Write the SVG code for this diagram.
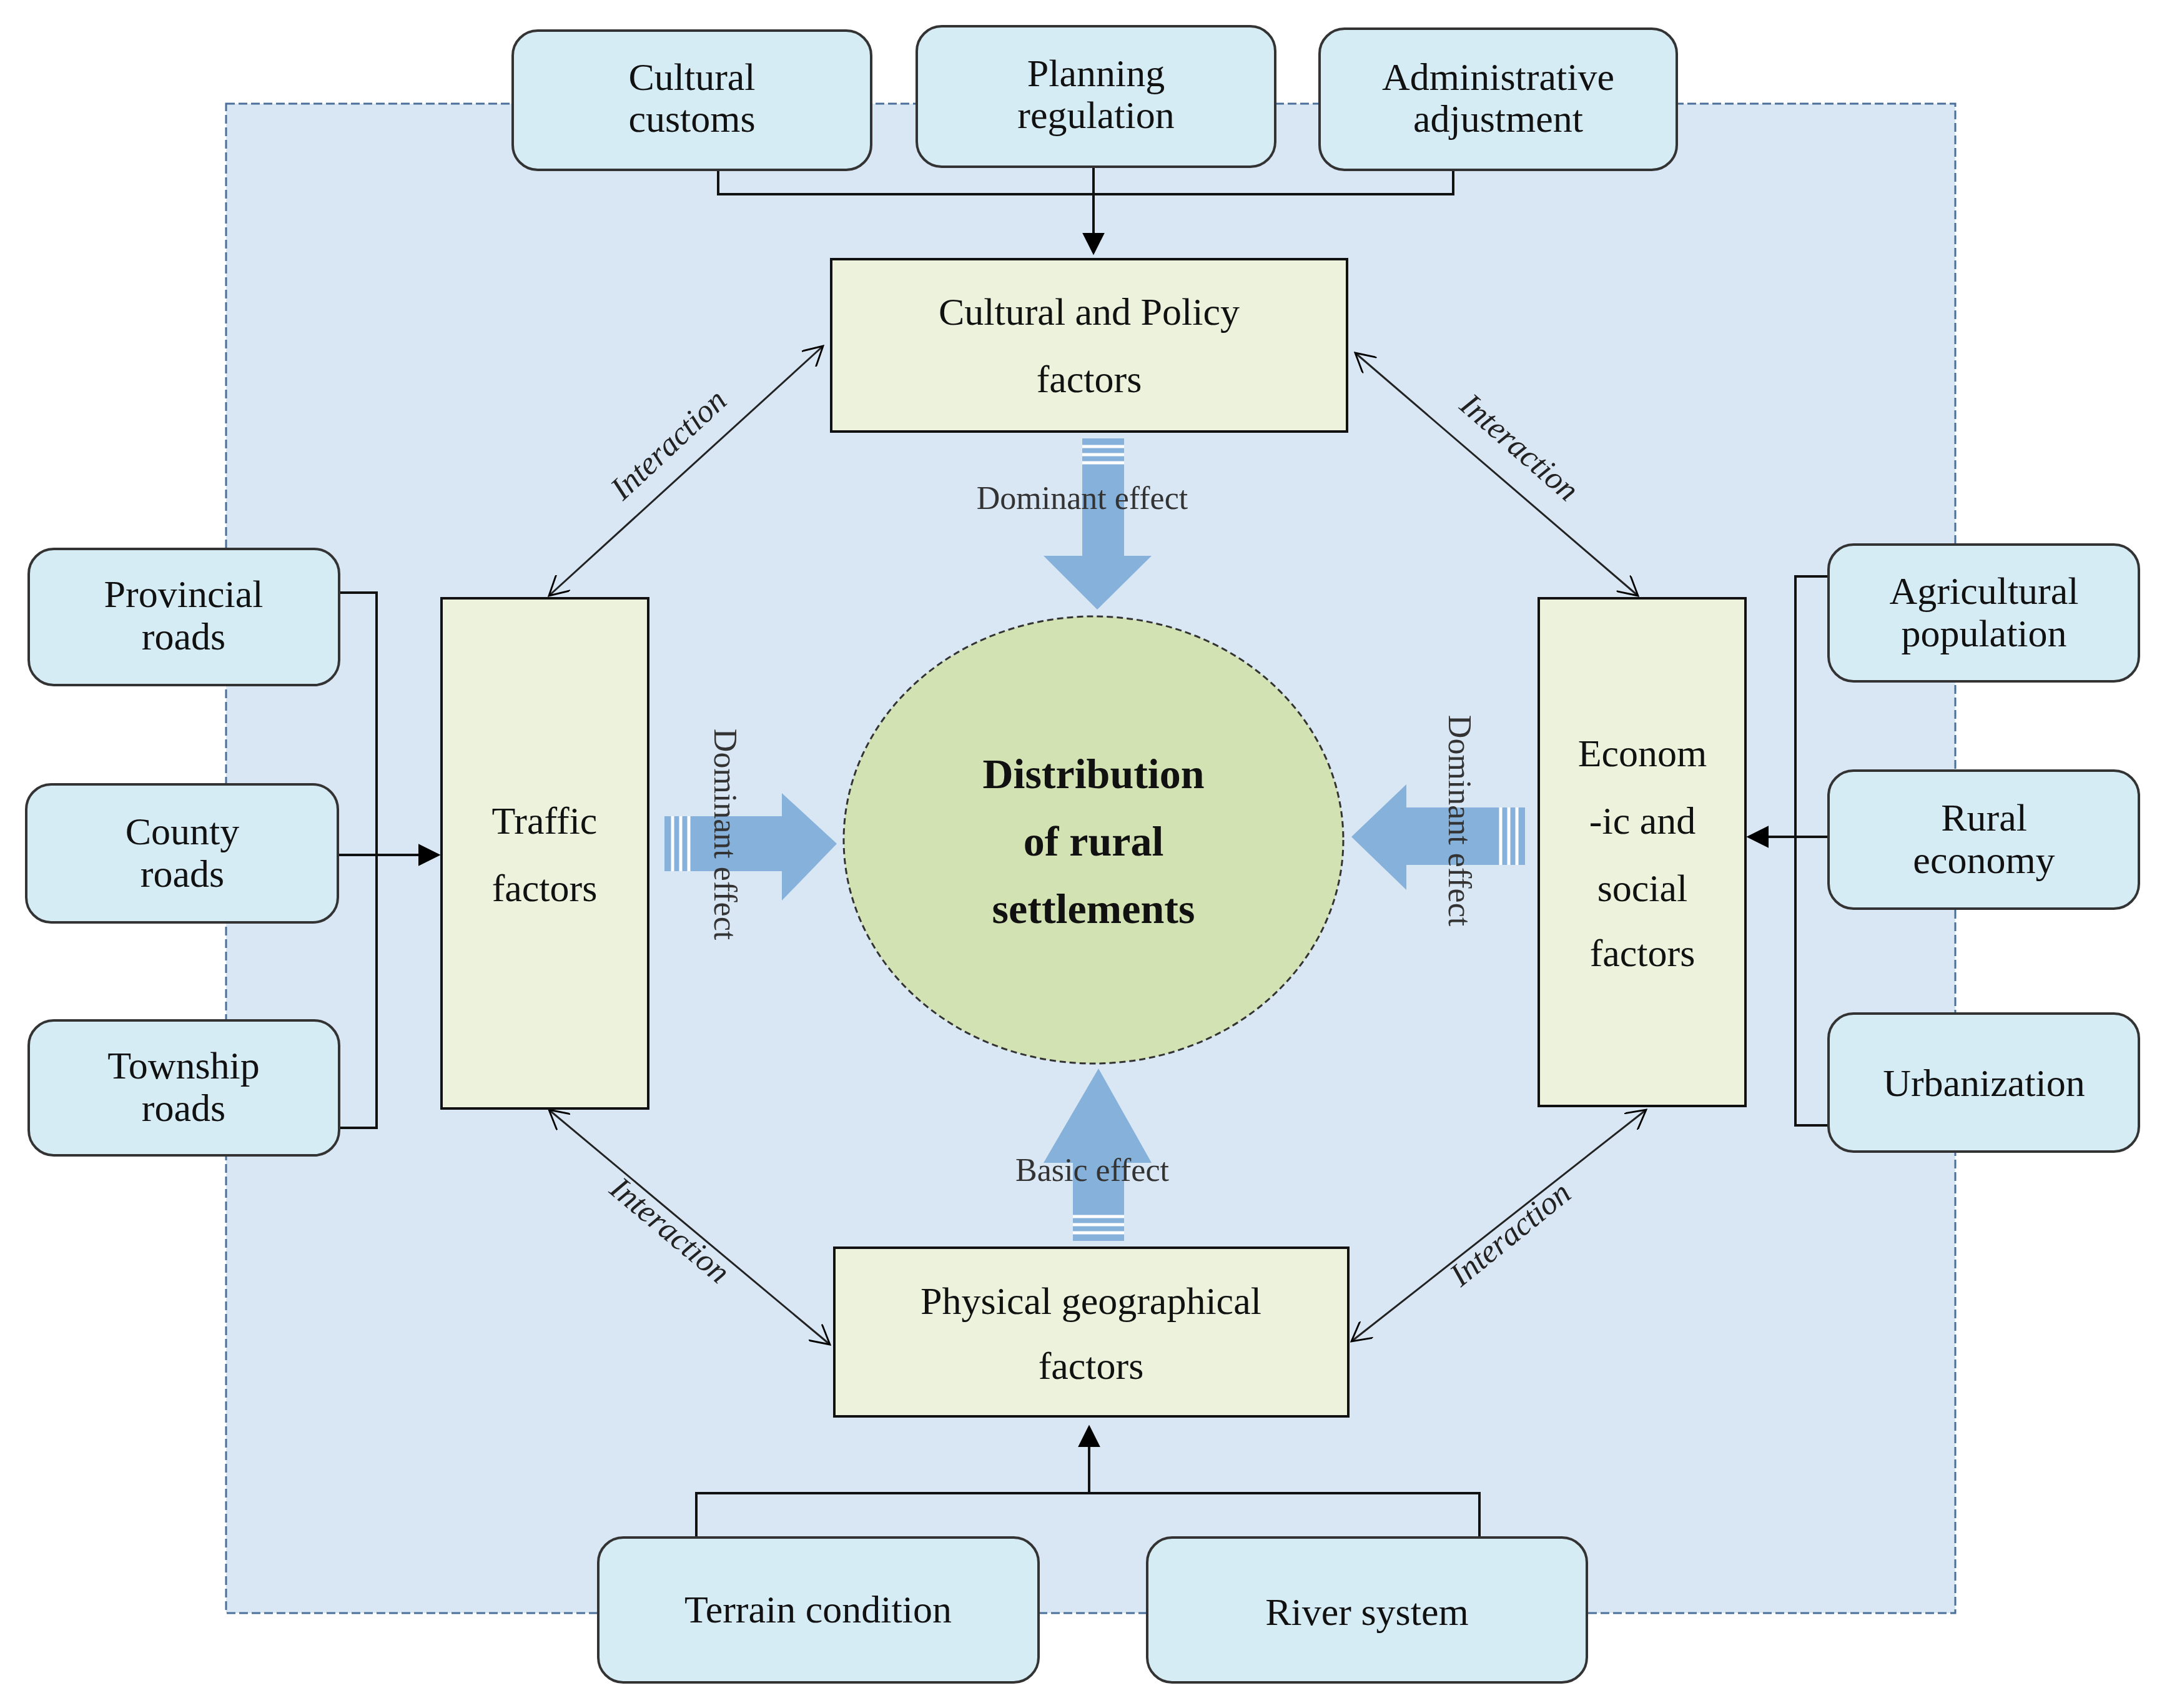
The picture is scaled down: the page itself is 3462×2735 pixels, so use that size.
<svg xmlns="http://www.w3.org/2000/svg" width="3462" height="2735" viewBox="0 0 3462 2735">
<defs>
<marker id="ah" viewBox="0 0 10 10" refX="9" refY="5" markerWidth="10" markerHeight="10" markerUnits="userSpaceOnUse" orient="auto"><path d="M0,0 L10,5 L0,10 z" fill="#000"/></marker>
<marker id="big" viewBox="0 0 10 10" refX="9" refY="5" markerWidth="36" markerHeight="36" markerUnits="userSpaceOnUse" orient="auto"><path d="M0,0 L10,5 L0,10 z" fill="#000"/></marker>
<marker id="open" viewBox="0 0 12 12" refX="11" refY="6" markerWidth="34" markerHeight="34" markerUnits="userSpaceOnUse" orient="auto-start-reverse"><path d="M0,0 L11,6 L0,12" fill="none" stroke="#000" stroke-width="1"/></marker>
</defs>
<style>
.rb{fill:#d6ecf5;stroke:#333;stroke-width:4}
.fb{fill:#edf2dc;stroke:#111;stroke-width:4}
.t{font-family:"Liberation Serif",serif;font-size:62px;fill:#111;text-anchor:middle}
.b{font-weight:bold;font-size:68px}
.s{font-size:52px;fill:#333}
.i{font-family:"Liberation Serif",serif;font-size:52px;font-style:italic;fill:#222;text-anchor:middle}
.ln{stroke:#111;stroke-width:4;fill:none}
.il{stroke:#222;stroke-width:3;fill:none}
.ar{fill:#86b1da}
.st{stroke:#fff;stroke-width:5}
</style>
<rect width="3462" height="2735" fill="#fff"/>
<rect x="362" y="166" width="2769" height="2417" fill="#d9e6f3" stroke="#4a6f9a" stroke-width="3" stroke-dasharray="14,6"/>
<g id="connectors">
<path class="ln" d="M1150,272 V311 H2327 V272"/>
<path class="ln" d="M1751,267 V405" marker-end="url(#big)"/>
<path class="ln" d="M1115,2462 V2391 H2369 V2462"/>
<path class="ln" d="M1744,2391 V2285" marker-end="url(#big)"/>
<path class="ln" d="M543,949 H603 V1806 H543 M541,1369 H702" marker-end="url(#big)"/>
<path class="ln" d="M2928,923 H2875 V1802 H2928 M2928,1340 H2800" marker-end="url(#big)"/>
<line class="il" x1="1318" y1="554" x2="879" y2="954" marker-start="url(#open)" marker-end="url(#open)"/>
<line class="il" x1="2170" y1="565" x2="2623" y2="954" marker-start="url(#open)" marker-end="url(#open)"/>
<line class="il" x1="879" y1="1777" x2="1329" y2="2153" marker-start="url(#open)" marker-end="url(#open)"/>
<line class="il" x1="2636" y1="1777" x2="2164" y2="2148" marker-start="url(#open)" marker-end="url(#open)"/>
<text class="i" transform="translate(1082,724) rotate(-43)">Interaction</text>
<text class="i" transform="translate(2422,729) rotate(41)">Interaction</text>
<text class="i" transform="translate(1062,1983) rotate(40)">Interaction</text>
<text class="i" transform="translate(2429,1989) rotate(-39)">Interaction</text>
<g id="arrow-top"><path class="ar" d="M1733,702 H1800 V890 H1844 L1757,976 L1671,890 H1733 Z"/><path class="st" d="M1733,715 H1800 M1733,728 H1800 M1733,741 H1800"/><text class="t s" x="1733" y="815">Dominant effect</text></g>
<g id="arrow-left"><path class="ar" d="M1064,1307 H1252 V1270 L1340,1351 L1252,1442 V1395 H1064 Z"/><path class="st" d="M1077,1307 V1395 M1090,1307 V1395 M1103,1307 V1395"/><text class="t s" transform="translate(1144,1336) rotate(90)">Dominant effect</text></g>
<g id="arrow-right"><path class="ar" d="M2442,1293 H2252 V1256 L2164,1340 L2252,1425 V1385 H2442 Z"/><path class="st" d="M2429,1293 V1385 M2416,1293 V1385 M2403,1293 V1385"/><text class="t s" transform="translate(2320,1314) rotate(90)">Dominant effect</text></g>
<g id="arrow-bottom"><path class="ar" d="M1718,1987 V1862 H1671 L1759,1711 L1844,1862 H1800 V1987 Z"/><path class="st" d="M1718,1974 H1800 M1718,1961 H1800 M1718,1948 H1800"/><text class="t s" x="1749" y="1891">Basic effect</text></g>
</g>
<g id="n-cc"><rect class="rb" x="821" y="49" width="574" height="223" rx="40"/><text class="t" x="1108" y="144">Cultural</text><text class="t" x="1108" y="211">customs</text></g>
<g id="n-pr"><rect class="rb" x="1468" y="42" width="574" height="225" rx="40"/><text class="t" x="1755" y="138">Planning</text><text class="t" x="1755" y="205">regulation</text></g>
<g id="n-aa"><rect class="rb" x="2113" y="46" width="572" height="226" rx="40"/><text class="t" x="2399" y="144">Administrative</text><text class="t" x="2399" y="211">adjustment</text></g>
<g id="n-cp"><rect class="fb" x="1331" y="415" width="826" height="276"/><text class="t" x="1744" y="520">Cultural and Policy</text><text class="t" x="1744" y="628">factors</text></g>
<g id="n-center"><ellipse cx="1751" cy="1345" rx="400" ry="358" fill="#d3e2b2" stroke="#333" stroke-width="3" stroke-dasharray="10,6"/><text class="t b" x="1751" y="1262">Distribution</text><text class="t b" x="1751" y="1370">of rural</text><text class="t b" x="1751" y="1478">settlements</text></g>
<g id="n-tr"><rect class="fb" x="707" y="958" width="331" height="817"/><text class="t" x="872" y="1335">Traffic</text><text class="t" x="872" y="1443">factors</text></g>
<g id="n-es"><rect class="fb" x="2464" y="958" width="331" height="813"/><text class="t" x="2630" y="1227">Econom</text><text class="t" x="2630" y="1335">-ic and</text><text class="t" x="2630" y="1443">social</text><text class="t" x="2630" y="1547">factors</text></g>
<g id="n-pg"><rect class="fb" x="1336" y="1998" width="823" height="270"/><text class="t" x="1747" y="2104">Physical geographical</text><text class="t" x="1747" y="2208">factors</text></g>
<g id="n-tc"><rect class="rb" x="958" y="2462" width="705" height="232" rx="40"/><text class="t" x="1310" y="2598">Terrain condition</text></g>
<g id="n-rs"><rect class="rb" x="1837" y="2462" width="704" height="232" rx="40"/><text class="t" x="2189" y="2602">River system</text></g>
<g id="n-prov"><rect class="rb" x="46" y="879" width="497" height="218" rx="40"/><text class="t" x="294" y="972">Provincial</text><text class="t" x="294" y="1040">roads</text></g>
<g id="n-coun"><rect class="rb" x="42" y="1256" width="499" height="221" rx="40"/><text class="t" x="292" y="1352">County</text><text class="t" x="292" y="1420">roads</text></g>
<g id="n-town"><rect class="rb" x="46" y="1634" width="497" height="216" rx="40"/><text class="t" x="294" y="1727">Township</text><text class="t" x="294" y="1795">roads</text></g>
<g id="n-agri"><rect class="rb" x="2928" y="872" width="497" height="219" rx="40"/><text class="t" x="3177" y="967">Agricultural</text><text class="t" x="3177" y="1035">population</text></g>
<g id="n-rural"><rect class="rb" x="2928" y="1234" width="497" height="221" rx="40"/><text class="t" x="3177" y="1330">Rural</text><text class="t" x="3177" y="1398">economy</text></g>
<g id="n-urb"><rect class="rb" x="2928" y="1623" width="497" height="221" rx="40"/><text class="t" x="3177" y="1755">Urbanization</text></g>
</svg>
